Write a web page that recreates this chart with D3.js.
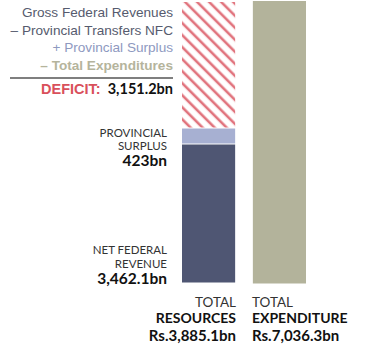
<!DOCTYPE html>
<html><head><meta charset="utf-8">
<script src="https://cdn.jsdelivr.net/npm/d3@7"></script>
<style>body{margin:0;background:#fff}svg{display:block}</style>
</head><body><svg id="c" width="367" height="352"></svg>
<script>
const columns = ["resources", "expenditure"];
const resourceParts = ["Net Federal Revenue", "Provincial Surplus", "Deficit"];
const resourceValues = [3462.1, 423, 3151.2];
const expenditureValue = [7036.3];
const formulaLines = ["Gross Federal Revenues", "– Provincial Transfers NFC", "+ Provincial Surplus", "– Total Expenditures"];
const deficitLabel = ["DEFICIT:", "3,151.2bn"];
const surplusLabel = ["PROVINCIAL", "SURPLUS", "423bn"];
const revenueLabel = ["NET FEDERAL", "REVENUE", "3,462.1bn"];
const resourcesLabel = ["TOTAL", "RESOURCES", "Rs.3,885.1bn"];
const expenditureLabel = ["TOTAL", "EXPENDITURE", "Rs.7,036.3bn"];

const svg = d3.select("#c");
const total = d3.sum(resourceValues);
const y = d3.scaleLinear().domain([0, total]).range([283.5, 1]);
const x = d3.scaleBand().domain(columns).range([182, 306]).paddingInner(0.25);

const defs = svg.append("defs");
const pat = defs.append("pattern").attr("id","hatch").attr("patternUnits","userSpaceOnUse")
  .attr("width",8.5).attr("height",8.5).attr("patternTransform","rotate(-45)");
pat.append("line").attr("x1",2).attr("x2",2).attr("y1",0).attr("y2",8.5)
  .attr("stroke","#e0707a").attr("stroke-width",2.6);

const fills = ["#4f5673", "#a7b0d2", "url(#hatch)"];
let acc = 0;
const segs = resourceValues.map((v,i)=>{const s={v,i,y0:acc,y1:acc+v};acc+=v;return s;});
const gap = 1;
svg.append("g").selectAll("rect").data(segs).join("rect")
  .attr("x", x("resources")).attr("width", x.bandwidth())
  .attr("y", d=>y(d.y1)+(d.i>0?gap:0))
  .attr("height", d=>y(d.y0)-y(d.y1)-(d.i>0?gap:0)-(d.i<2?gap:0))
  .attr("fill", d=>fills[d.i]);

svg.append("rect").attr("x", x("expenditure")).attr("width", x.bandwidth())
  .attr("y", y(expenditureValue[0])).attr("height", y(0)-y(expenditureValue[0]))
  .attr("fill","#b3b39b");

// formula block
const fColors = ["#565b6e","#565b6e","#8e99bf","#b5b49c"];
const fWeights = ["normal","normal","normal","bold"];
svg.append("g").selectAll("text").data(formulaLines).join("text")
  .attr("x",173).attr("y",(d,i)=>17+i*17.5).attr("text-anchor","end")
  .attr("font-family","Liberation Sans, Arial, sans-serif").attr("font-size",13.6)
  .attr("font-weight",(d,i)=>fWeights[i]).attr("fill",(d,i)=>fColors[i])
  .text(d=>d);
svg.append("line").attr("x1",10).attr("x2",173).attr("y1",78).attr("y2",78)
  .attr("stroke","#555").attr("stroke-width",1.5);
const dt = svg.append("text").attr("x",173).attr("y",94).attr("text-anchor","end")
  .attr("font-family","Lato, sans-serif").attr("font-size",14.5);
dt.append("tspan").attr("fill","#d9505b").attr("font-weight","bold")
  .attr("font-family","Liberation Sans, Arial, sans-serif").text(deficitLabel[0]+" ");
dt.append("tspan").attr("fill","#111").attr("font-weight","bold").attr("dx",3).text(deficitLabel[1]);

function block(lbl, xPos, anchor, y0, sizes, weights, colors, dy){
  const g = svg.append("g");
  g.selectAll("text").data(lbl).join("text")
    .attr("x",xPos).attr("y",(d,i)=>y0+dy[i]).attr("text-anchor",anchor)
    .attr("font-family","Lato, sans-serif")
    .attr("font-size",(d,i)=>sizes[i]).attr("font-weight",(d,i)=>weights[i])
    .attr("fill",(d,i)=>colors[i]).text(d=>d);
}
const sTop = y(segs[1].y1)+gap;
block(surplusLabel,167,"end",sTop,[11.5,11.5,15.5],["normal","normal","bold"],["#333","#333","#111"],[8,21.5,37.5]);
block(revenueLabel,167,"end",y(0),[11.5,11.5,15.5],["normal","normal","bold"],["#333","#333","#111"],[-29.5,-16,0]);
block(resourcesLabel,236,"end",y(0),[13.5,14,15],["normal","bold","bold"],["#333","#111","#111"],[23.5,39.5,57.5]);
block(expenditureLabel,252,"start",y(0),[13.5,14,15],["normal","bold","bold"],["#333","#111","#111"],[23.5,39.5,57.5]);
</script></body></html>
